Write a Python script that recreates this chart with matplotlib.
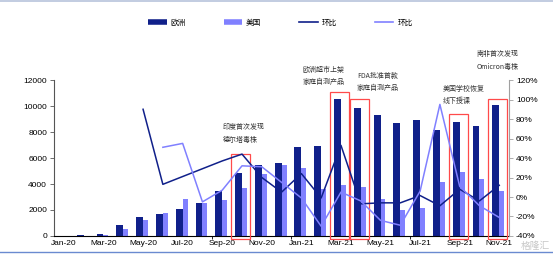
import numpy as np
import matplotlib.pyplot as plt
from matplotlib.patches import Rectangle
from matplotlib.lines import Line2D

plt.rcParams['font.family'] = ['Liberation Sans', 'Noto Sans CJK SC', 'DejaVu Sans']

# monthly data
months = ['Jan-20', 'Feb-20', 'Mar-20', 'Apr-20', 'May-20', 'Jun-20', 'Jul-20', 'Aug-20',
          'Sep-20', 'Oct-20', 'Nov-20', 'Dec-20', 'Jan-21', 'Feb-21', 'Mar-21', 'Apr-21',
          'May-21', 'Jun-21', 'Jul-21', 'Aug-21', 'Sep-21', 'Oct-21', 'Nov-21']
europe = [0, 100, 180, 850, 1490, 1670, 2050, 2560, 3450, 4870, 5460, 5650,
          6880, 6920, 10560, 9840, 9300, 8710, 8920, 8150, 8750, 8460, 10070]
usa = [0, 20, 110, 540, 1230, 1790, 2820, 2560, 2770, 3670, 4740, 5500,
       5200, 3590, 3920, 3790, 2820, 2000, 2180, 4180, 4920, 4380, 3490]
# month on month change, %
europe_mom = [np.nan, np.nan, np.nan, np.nan, 90, 13, 21, 29, 37, 44, 20, 5,
              24, -1, 53, -7, -6, -6, 1.5, -9, 8, -4, 12]
usa_mom = [np.nan, np.nan, np.nan, np.nan, np.nan, 51, 55, -5, 7, 32, 31, 15,
           -1, -30, 5, -4, -24, -29, 6, 95, 11, -9, -21]

# events: (month index, box top, text x, text y, text)
events = [
    (9, 6300, 8.04, 7880, '印度首次发现\n德尔塔毒株'),
    (14, 11070, 12.08, 12300, '欧洲超市上架\n家庭自测产品'),
    (15, 10510, 14.8, 11840, 'FDA批准首款\n家庭自测产品'),
    (20, 9380, 19.15, 10840, '美国学校恢复\n线下授课'),
    (22, 10510, 20.86, 13500, '南非首次发现\nOmicron毒株'),
]

dark = '#10208A'
light = '#8080FF'

fig = plt.figure(figsize=(5.53, 2.54), dpi=100)
ax = fig.add_axes([0.0977, 0.0709, 0.823, 0.614])
ax2 = ax.twinx()

x = np.arange(len(months))
ax.bar(x - 0.175, europe, width=0.35, color=dark, zorder=2)
ax.bar(x + 0.125, usa, width=0.25, color=light, zorder=2)

ax2.plot(x, europe_mom, color=dark, lw=1.1)
ax2.plot(x, usa_mom, color=light, lw=1.1)

ax.set_xlim(-0.5, len(months) - 0.5)
ax.set_ylim(0, 12000)
ax2.set_ylim(-40, 120)
ax.set_yticks(range(0, 12001, 2000))
ax2.set_yticks(range(-40, 121, 20))
ax2.set_yticklabels([str(v) + '%' for v in range(-40, 121, 20)])
ax.set_xticks(x[::2])
ax.set_xticklabels(months[::2])
ax.set_xticks([7.5, 11.5, 17.5], minor=True)

for a in (ax, ax2):
    a.spines['top'].set_visible(False)
    a.tick_params(labelsize=6, pad=2)
ax.spines['left'].set_color('#555555')
ax.spines['right'].set_visible(False)
ax2.spines['left'].set_visible(False)
ax2.spines['bottom'].set_visible(False)
ax2.spines['right'].set_color('#A0A0A0')
ax.tick_params(axis='y', length=3, width=0.6, color='#555555')
ax2.tick_params(axis='y', length=3, width=0.6, color='#A0A0A0')
ax.tick_params(axis='x', which='major', length=0, pad=3)
ax.tick_params(axis='x', which='minor', length=2, width=0.6)

# red boxes and event notes
for idx, top, tx, ty, label in events:
    ax.add_patch(Rectangle((idx - 0.55, -220), 0.95, top + 220, fill=False,
                           ec='#FF4A4A', lw=0.9, zorder=3, clip_on=False))
    ax.text(tx, ty, label, fontsize=5, va='center', ha='left', linespacing=1.7,
            color='#333333', family=['Noto Sans CJK SC', 'DejaVu Sans'])

handles = [Line2D([], [], color=dark, lw=4, solid_capstyle='butt'),
           Line2D([], [], color=light, lw=4, solid_capstyle='butt'),
           Line2D([], [], color=dark, lw=1.2), Line2D([], [], color=light, lw=1.2)]
fig.legend(handles, ['欧洲', '美国', '环比', '环比'], loc='center', ncol=4,
           bbox_to_anchor=(0.507, 0.91), frameon=False, handlelength=2.4,
           handletextpad=0.5, columnspacing=5.0,
           prop={'family': ['Noto Sans CJK SC', 'DejaVu Sans'], 'size': 5.5})

# frame lines and watermark of the original image
fig.add_artist(Line2D([0, 1], [0.996, 0.996], color='#B8C4DC', lw=1.2))
fig.add_artist(Line2D([0, 1], [0.006, 0.006], color='#6A8AD0', lw=1.0))
fig.text(0.995, 0.032, '格隆汇', fontsize=7, color='#C8C8C8', ha='right', va='center',
         family=['Noto Sans CJK SC', 'DejaVu Sans'])

fig.savefig('out.png', dpi=100)
